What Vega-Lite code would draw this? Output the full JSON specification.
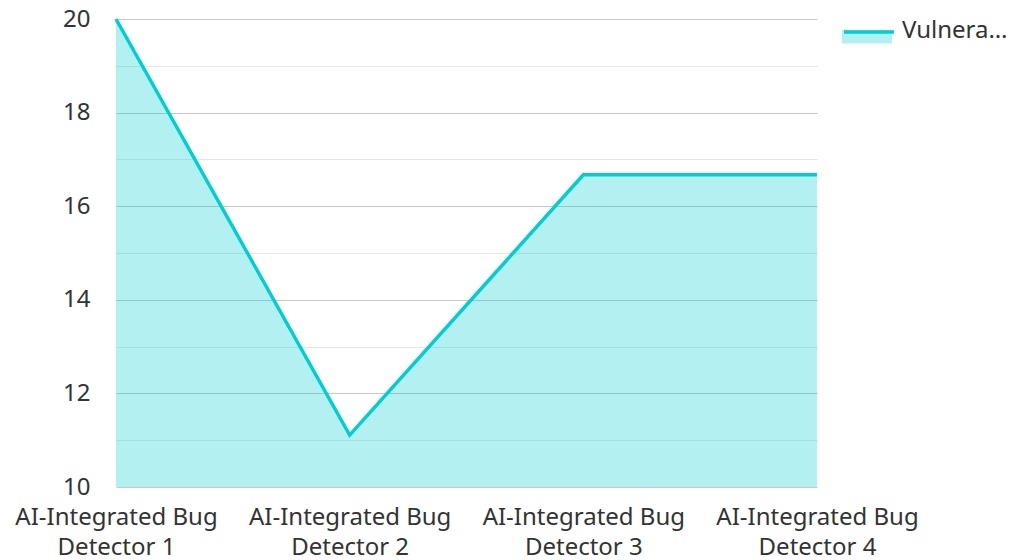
{
  "$schema": "https://vega.github.io/schema/vega-lite/v6.json",
  "width": 701,
  "height": 468,
  "autosize": {"type": "none"},
  "padding": {"left": 116, "top": 19, "right": 197, "bottom": 73},
  "background": "white",
  "config": {
    "view": {"stroke": null},
    "font": "Noto Sans",
    "axis": {"labelFont": "Noto Sans", "labelFontSize": 24, "labelColor": "#333333", "domain": false, "ticks": false, "title": null}
  },
  "data": {
    "values": [
      {"tool": "AI-Integrated Bug Detector 1", "value": 20, "series": "Vulnerability Detection Rate (%)"},
      {"tool": "AI-Integrated Bug Detector 2", "value": 11.11, "series": "Vulnerability Detection Rate (%)"},
      {"tool": "AI-Integrated Bug Detector 3", "value": 16.67, "series": "Vulnerability Detection Rate (%)"},
      {"tool": "AI-Integrated Bug Detector 4", "value": 16.67, "series": "Vulnerability Detection Rate (%)"}
    ]
  },
  "encoding": {
    "x": {
      "field": "tool", "type": "ordinal", "sort": null,
      "scale": {"type": "point", "padding": 0},
      "axis": {"labelAngle": 0, "grid": false, "labelPadding": 18, "labelLineHeight": 30,
               "labelExpr": "[slice(datum.label,0,17), slice(datum.label,18)]", "labelLimit": 300}
    },
    "y": {
      "field": "value", "type": "quantitative",
      "scale": {"domain": [10, 20], "nice": false, "zero": false},
      "axis": {
        "values": [10, 11, 12, 13, 14, 15, 16, 17, 18, 19, 20],
        "labelExpr": "datum.value % 2 === 0 ? datum.label : ''",
        "labelPadding": 26,
        "grid": true,
        "gridColor": {"condition": {"test": "datum.value % 2 === 0", "value": "#c8c8c8"}, "value": "#e6e6e6"},
        "gridWidth": 1
      }
    }
  },
  "layer": [
    {
      "mark": {"type": "area", "fillOpacity": 0.3, "interpolate": "linear", "clip": true},
      "encoding": {
        "fill": {
          "field": "series", "type": "nominal",
          "scale": {"range": ["#00CED1"]},
          "legend": {
            "title": null, "orient": "none", "legendX": 726, "legendY": -13.5,
            "symbolType": "M-1,-0.02H1V0.52H-1Z", "symbolSize": 2500, "symbolStrokeWidth": 0,
            "symbolOpacity": 0.3,
            "labelFont": "Noto Sans", "labelFontSize": 24, "labelColor": "#333333",
            "labelOffset": 10, "labelLimit": 108, "padding": 0
          }
        }
      }
    },
    {
      "mark": {"type": "line", "strokeWidth": 3.5, "interpolate": "linear"},
      "encoding": {
        "stroke": {
          "field": "series", "type": "nominal",
          "scale": {"range": ["#00CED1"]},
          "legend": {
            "title": null, "orient": "none", "legendX": 726, "legendY": -13.5,
            "symbolType": "M-1,-0.02H1", "symbolSize": 2500, "symbolStrokeWidth": 3.5,
            "labelFont": "Noto Sans", "labelFontSize": 24, "labelColor": "#333333",
            "labelOpacity": 0,
            "labelOffset": 10, "labelLimit": 108, "padding": 0
          }
        }
      }
    }
  ]
}
